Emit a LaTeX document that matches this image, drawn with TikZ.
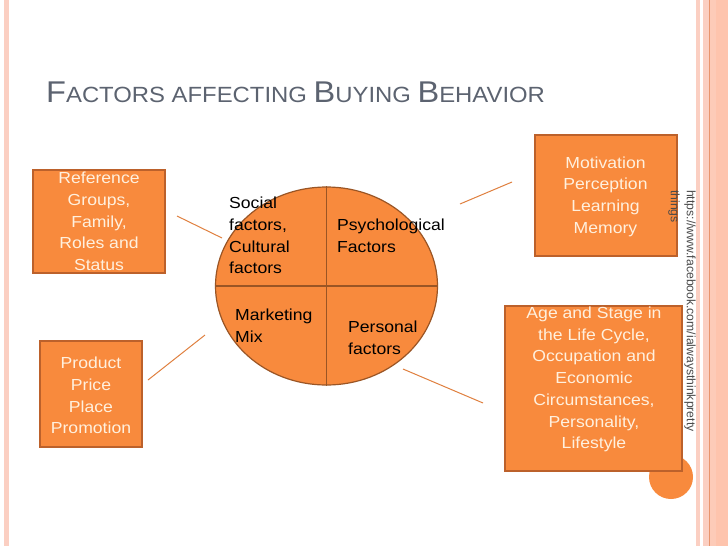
\documentclass[tikz,border=0pt]{standalone}
\usepackage{fontspec}
\setmainfont[FakeStretch=1.1]{Liberation Sans}
\newfontfamily\urlfont{Liberation Sans}
\newfontfamily\titlefont[FakeStretch=1.085]{Liberation Sans}
\usetikzlibrary{shapes.geometric}
\definecolor{orfill}{HTML}{F88A3D}
\definecolor{orborder}{HTML}{BC612B}
\definecolor{pieborder}{HTML}{9A5525}
\definecolor{boxtext}{HTML}{FFF0DE}
\definecolor{linkcol}{HTML}{E0803F}
\definecolor{titlecol}{HTML}{5C6370}
\definecolor{stripeA}{HTML}{FBCFC2}
\definecolor{stripeB}{HTML}{FDCBB8}
\definecolor{stripeC}{HTML}{FEC4AD}
\definecolor{stripeline}{HTML}{E8956E}
\definecolor{urlcol}{HTML}{4A4A4A}
\tikzset{
  box/.style={draw=orborder, fill=orfill, line width=1.6pt, inner sep=0pt},
  boxtxt/.style={text=boxtext, font=\fontsize{16}{21.7}\selectfont, align=center, inner sep=0pt},
  pietxt/.style={text=black, font=\fontsize{16}{21.7}\selectfont, align=left, inner sep=0pt, anchor=west},
  link/.style={draw=linkcol, line width=1pt},
}
\newcommand{\bigc}[1]{{\fontsize{30}{30}\selectfont #1}}
\newcommand{\smc}[1]{{\fontsize{22}{22}\selectfont #1}}
\begin{document}
\begin{tikzpicture}[x=1pt,y=-1pt]
\useasboundingbox (0,0) rectangle (728,546);
\fill[white] (0,0) rectangle (728,546);
% left border stripe
\fill[stripeA] (4,0) rectangle (9,546);
% right border stripes
\fill[stripeA] (696,0) rectangle (700,546);
\fill[stripeA] (703,0) rectangle (709,546);
\fill[stripeB] (709,0) rectangle (716,546);
\fill[stripeC] (716,0) rectangle (728,546);
\draw[stripeline, line width=1pt] (709.5,0) -- (709.5,546);

% title
\node[anchor=base west, inner sep=0pt, text=titlecol, font=\titlefont] (title) at (46,102)
  {\bigc{F}\smc{ACTORS AFFECTING }\bigc{B}\smc{UYING }\bigc{B}\smc{EHAVIOR}};

% central pie
\node[ellipse, draw=pieborder, fill=orfill, line width=1.2pt,
      minimum width=222pt, minimum height=198pt, inner sep=0pt] (pie) at (326.5,286) {};
\draw[pieborder, line width=1.2pt] (pie.north) -- (pie.south);
\draw[pieborder, line width=1.2pt] (pie.west) -- (pie.east);

\node[pietxt] (social) at (229,235.5) {Social\\factors,\\Cultural\\factors};
\node[pietxt] (psych) at (337,236) {Psychological\\Factors};
\node[pietxt] (mkt) at (235,326) {Marketing\\Mix};
\node[pietxt] (pers) at (348,338) {Personal\\factors};

% small decorative circle
\fill[orfill] (671,477) circle [radius=22pt];

% boxes
\node[box, minimum width=132pt, minimum height=103pt] (ref) at (99,221.5) {};
\node[boxtxt] (reftxt) at (99,221.5) {Reference\\Groups,\\Family,\\Roles and\\Status};

\node[box, minimum width=102pt, minimum height=106pt] (prod) at (91,394) {};
\node[boxtxt] (prodtxt) at (91,395.5) {Product\\Price\\Place\\Promotion};

\node[box, minimum width=142pt, minimum height=121pt] (mot) at (606,195.5) {};
\node[boxtxt] (mottxt) at (605.5,196.5) {Motivation\\Perception\\Learning\\Memory};

\node[box, minimum width=177pt, minimum height=165pt] (age) at (593.5,388.5) {};
\node[boxtxt] (agetxt) at (594,379.5) {Age and Stage in\\the Life Cycle,\\Occupation and\\Economic\\Circumstances,\\Personality,\\Lifestyle};

% connectors
\coordinate (l1a) at (177,216);
\coordinate (l1b) at (222,238);
\coordinate (l2a) at (148,380);
\coordinate (l2b) at (205,335);
\coordinate (l3a) at (460,204);
\coordinate (l3b) at (512,182);
\coordinate (l4a) at (403,369);
\coordinate (l4b) at (483,403);
\draw[link] (l1a) -- (l1b);
\draw[link] (l2a) -- (l2b);
\draw[link] (l3a) -- (l3b);
\draw[link] (l4a) -- (l4b);

% vertical url text
\node[rotate=-90, anchor=north west, inner sep=0pt, align=left, text=urlcol,
      font=\urlfont\fontsize{12.2}{16}\selectfont] (url) at (696,190)
  {https://www.facebook.com/ialwaysthinkpretty\\things};
\end{tikzpicture}
\end{document}
